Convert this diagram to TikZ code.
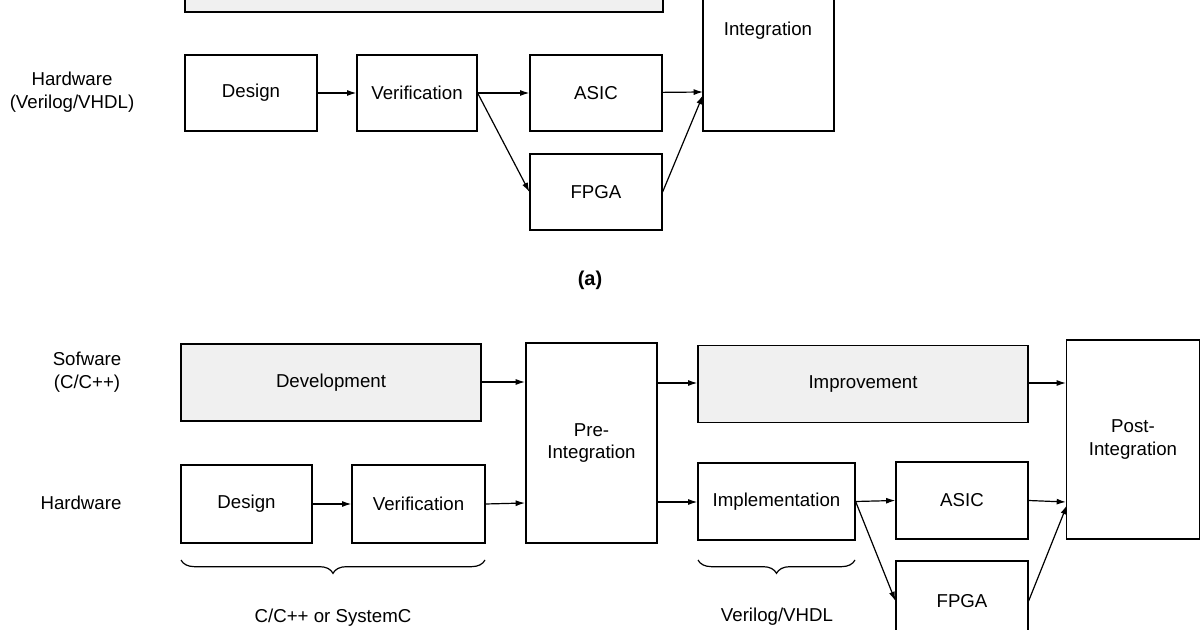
\documentclass[tikz,border=0pt]{standalone}
\usepackage{fontspec}
\setmainfont{Liberation Sans}
\usetikzlibrary{arrows.meta,decorations.pathreplacing}
\begin{document}
\begin{tikzpicture}[x=0.75pt,y=-0.75pt,font=\fontsize{14}{17}\selectfont,
  box/.style={draw,line width=0.9pt},
  gbox/.style={box,fill=gray!12},
  arr/.style={-{Latex[length=7pt,width=4.5pt]},line width=0.9pt},
  brc/.style={line width=0.9pt,decorate,decoration={brace,mirror,amplitude=10pt}},
  lbl/.style={align=center}]
\useasboundingbox (0,0) rectangle (1200,630);
\clip (0,0) rectangle (1200,630);
% (a)
\draw[gbox] (185,-40) rectangle (663,12);
\draw[box] (703,-40) rectangle (834,131);
\node[lbl] (integ) at (768,31) {Integration};
\node[lbl] (hwa) at (72,92) {Hardware\\(Verilog/VHDL)};
\node[box,minimum width=99pt,minimum height=57pt] (da) at (251,93) {Design};
\node[box,minimum width=90pt,minimum height=57pt] (va) at (417,93) {Verification};
\node[box,minimum width=99pt,minimum height=57pt] (aa) at (596,93) {ASIC};
\node[box,minimum width=99pt,minimum height=57pt] (fa) at (596,192) {FPGA};
\coordinate (ia) at (703,92);
\coordinate (ib) at (703,95);
\draw[arr] (da) -- (va);
\draw[arr] (va) -- (aa);
\draw[arr] (va.east) -- (fa.west);
\draw[arr] (aa) -- (ia);
\draw[arr] (fa.east) -- (ib);
\node[font=\fontsize{15}{18}\selectfont\bfseries] (cap) at (590,280) {(a)};
% (b)
\node[lbl] (sw) at (87,372) {Sofware\\(C/C++)};
\node[lbl] (hw) at (81,503) {Hardware};
\node[gbox,minimum width=225pt,minimum height=57.75pt] (dev) at (331,382.5) {Development};
\node[box,minimum width=98.25pt,minimum height=150pt,text width=80pt,align=center] (pre) at (591.5,443) {Pre-\\Integration};
\node[box,minimum width=98.25pt,minimum height=58.5pt] (db) at (246.5,504) {Design};
\node[box,minimum width=99.75pt,minimum height=58.5pt] (vb) at (418.5,504) {Verification};
\node[gbox,minimum width=247.5pt,minimum height=57.75pt] (imp) at (863,384) {Improvement};
\node[box,minimum width=99.75pt,minimum height=149.25pt,align=center] (post) at (1133,439.5) {Post-\\Integration};
\node[box,minimum width=117.75pt,minimum height=57.75pt,inner sep=1pt] (impl) at (776.5,501.5) {Implementation};
\node[box,minimum width=99pt,minimum height=57.75pt] (ab) at (962,500.5) {ASIC};
\node[box,minimum width=99pt,minimum height=60pt] (fb) at (962,601) {FPGA};
\coordinate (devin) at (525,382);
\coordinate (prein) at (525,503);
\coordinate (pimp) at (657,383);
\coordinate (pimpl) at (657,502);
\coordinate (postA) at (1066,383);
\coordinate (postB) at (1066,502);
\coordinate (postC) at (1067,505);
\draw[arr] (dev.east |- devin) -- (devin);
\draw[arr] (db) -- (vb);
\draw[arr] (vb.east) -- (prein);
\draw[arr] (pimp) -- (imp.west |- pimp);
\draw[arr] (imp.east |- postA) -- (postA);
\draw[arr] (pimpl) -- (impl.west |- pimpl);
\draw[arr] (impl.east) -- (ab.west);
\draw[arr] (impl.east) -- (fb.west);
\draw[arr] (ab.east) -- (postB);
\draw[arr] (fb.east) -- (postC);
\coordinate (b1s) at (181,560); \coordinate (b1e) at (485,560);
\coordinate (b2s) at (698,560); \coordinate (b2e) at (855,560);
\draw[brc] (b1s) -- (b1e);
\draw[brc] (b2s) -- (b2e);
\node (l1) at (333,618) {C/C++ or SystemC};
\node (l2) at (777,617) {Verilog/VHDL};
\end{tikzpicture}
\end{document}
